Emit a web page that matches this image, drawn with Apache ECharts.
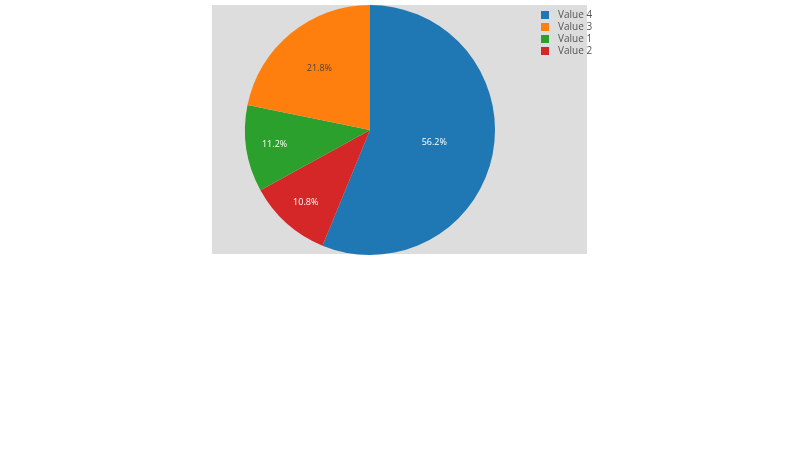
<!DOCTYPE html>
<html>
<head>
<meta charset="utf-8">
<title>Pie</title>
<script src="https://cdn.jsdelivr.net/npm/echarts@6/dist/echarts.min.js"></script>
<style>
  html, body { margin: 0; padding: 0; background: #ffffff; }
  #wrap { position: relative; width: 800px; height: 450px; }
  #paper { position: absolute; left: 212px; top: 5px; width: 375px; height: 249px; background: #dddddd; }
  #chart { position: absolute; left: 0; top: 0; width: 800px; height: 450px; }
</style>
</head>
<body>
<div id="wrap"><div id="paper"></div><div id="chart"></div></div>
<script>
// slices in drawing order, clockwise from 12 o'clock
var names = ['Value 4', 'Value 2', 'Value 1', 'Value 3'];
var values = [56.2, 10.8, 11.2, 21.8];
var colors = ['#1f77b4', '#d62728', '#2ca02c', '#ff7f0e'];
var legendOrder = ['Value 4', 'Value 3', 'Value 1', 'Value 2'];

// which ring each label sits on (plotly puts small slice labels further out)
var labelRing = ['main', 'outer', 'outer', 'mid'];

function sliceData(ring, transparent) {
  return names.map(function (n, i) {
    return {
      name: n,
      value: values[i],
      itemStyle: { color: transparent ? 'rgba(0,0,0,0)' : colors[i] },
      label: {
        show: labelRing[i] === ring,
        color: colors[i] === '#ff7f0e' ? '#444444' : '#ffffff'
      }
    };
  });
}

var pieBase = {
  type: 'pie',
  center: [370, 130],
  startAngle: 90,
  clockwise: true,
  avoidLabelOverlap: false,
  label: {
    position: 'inside',
    formatter: function (p) { return p.percent.toFixed(1) + '%'; },
    fontFamily: 'Open Sans',
    fontSize: 9
  },
  labelLine: { show: false },
  emphasis: { scale: false }
};

var chart = echarts.init(document.getElementById('chart'), null, { renderer: 'canvas' });
chart.setOption({
  animation: false,
  color: colors,
  legend: {
    data: legendOrder,
    orient: 'vertical',
    left: 541,
    top: 10,
    padding: 0,
    itemWidth: 8,
    itemHeight: 8,
    itemGap: 2,
    icon: 'rect',
    textStyle: { fontFamily: 'Open Sans', fontSize: 10, lineHeight: 9, color: '#555555', padding: [0, 0, 0, 4] }
  },
  series: [
    Object.assign({}, pieBase, {
      radius: [0, 125],
      data: sliceData('main', false)
    }),
    Object.assign({}, pieBase, {
      radius: [62, 125],
      silent: true,
      data: sliceData('outer', true)
    }),
    Object.assign({}, pieBase, {
      radius: [29, 125],
      silent: true,
      data: sliceData('mid', true)
    })
  ]
});
</script>
</body>
</html>
